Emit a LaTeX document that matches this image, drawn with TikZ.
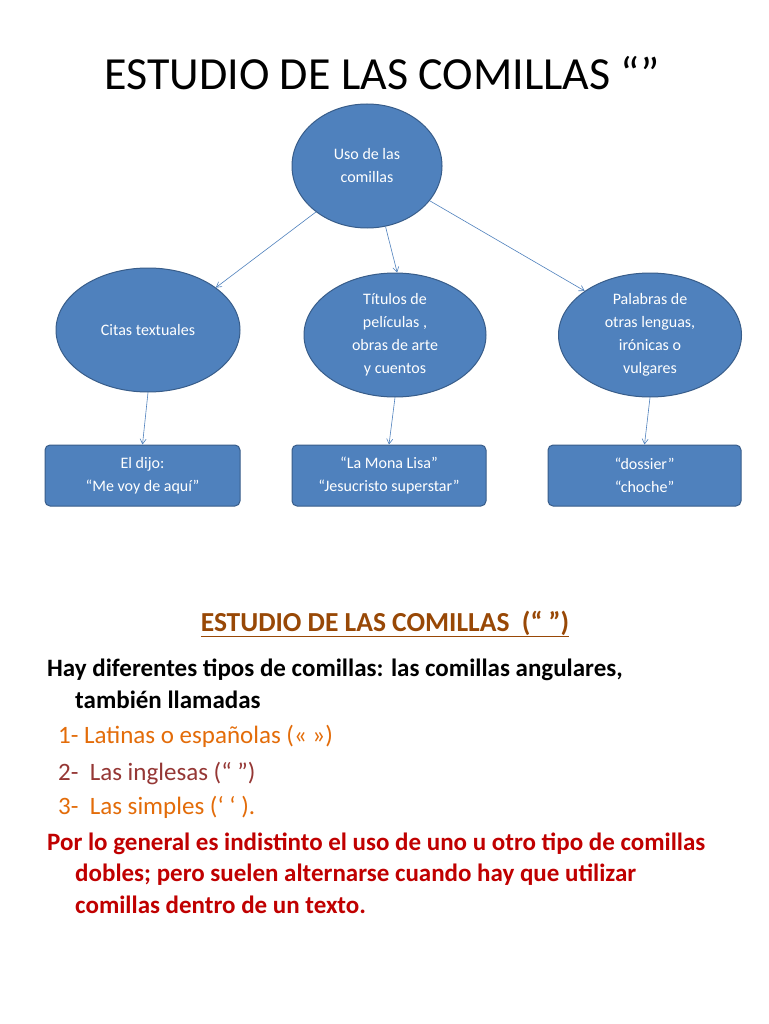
\documentclass[tikz,border=0pt]{standalone}
\usepackage{fontspec}
\setmainfont{Carlito}
\usetikzlibrary{shapes.geometric,arrows.meta}
\definecolor{nodefill}{HTML}{4F81BD}
\definecolor{nodeline}{HTML}{385D8A}
\definecolor{brownc}{HTML}{984806}
\definecolor{orangec}{HTML}{E36C09}
\definecolor{maroonc}{HTML}{953735}
\definecolor{redc}{HTML}{C00000}
\tikzset{
  oval/.style={ellipse,draw=nodeline,fill=nodefill,line width=1pt,text=white,font=\fontsize{16}{23}\selectfont,align=center,inner sep=0pt},
  leaf/.style={rectangle,rounded corners=5pt,draw=nodeline,fill=nodefill,line width=1pt,text=white,font=\fontsize{16}{23}\selectfont,align=center,minimum height=61pt},
  conn/.style={draw=nodefill,line width=0.6pt,-{Straight Barb[length=5pt,width=6pt]}},
  body/.style={anchor=base west,font=\fontsize{25}{30}\selectfont,inner sep=0pt}
}
\begin{document}
\begin{tikzpicture}[x=1pt,y=-1pt]
\useasboundingbox[fill=white] (0,0) rectangle (768,1024);
\node[font=\fontsize{46}{52}\selectfont,anchor=base] (title) at (382,90) {ESTUDIO DE LAS COMILLAS “”};
\node[oval,minimum width=150pt,minimum height=124pt] (top) at (367,166) {Uso de las\\comillas};
\node[oval,minimum width=184pt,minimum height=124pt] (c1) at (148,330) {Citas textuales};
\node[oval,minimum width=182pt,minimum height=124pt] (c2) at (395,335) {Títulos de\\películas ,\\obras de arte\\y cuentos};
\node[oval,minimum width=183pt,minimum height=124pt] (c3) at (650,335) {Palabras de\\otras lenguas,\\irónicas o\\vulgares};
\node[leaf,minimum width=195pt] (b1) at (142.5,475.5) {El dijo:\\“Me voy de aquí”};
\node[leaf,minimum width=194pt] (b2) at (389,475.5) {“La Mona Lisa”\\“Jesucristo superstar”};
\node[leaf,minimum width=193pt] (b3) at (644.5,475.5) {“dossier”\\“choche”};
\draw[conn] (top.222) -- (c1.32);
\draw[conn] (top.287) -- (c2.88);
\draw[conn] (top.331) -- (c3.146);
\draw[conn] (c1.south) -- (b1.north);
\draw[conn] (c2.south) -- (b2.north);
\draw[conn] (c3.south) -- (b3.north);
\node[body,anchor=base,font=\fontsize{27.5}{30}\selectfont\bfseries,text=brownc] (h2) at (385,631) {\underline{ESTUDIO DE LAS COMILLAS\ \ (“ ”)}};
\node[body,font=\fontsize{25}{30}\selectfont\bfseries] (p1) at (47,676) {Hay diferentes tipos de comillas: las comillas angulares,};
\node[body,font=\fontsize{25}{30}\selectfont\bfseries] (p2) at (75,708) {también llamadas};
\node[body,text=orangec] (i1) at (58,743) {1- Latinas o españolas (« »)};
\node[body,text=maroonc] (i2) at (58,780) {2-\ \ Las inglesas (“ ”)};
\node[body,text=orangec] (i3) at (58,814) {3-\ \ Las simples (‘ ‘ ).};
\node[body,font=\fontsize{25}{30}\selectfont\bfseries,text=redc] (r1) at (47,850) {Por lo general es indistinto el uso de uno u otro tipo de comillas};
\node[body,font=\fontsize{25}{30}\selectfont\bfseries,text=redc] (r2) at (75,881) {dobles; pero suelen alternarse cuando hay que utilizar};
\node[body,font=\fontsize{25}{30}\selectfont\bfseries,text=redc] (r3) at (75,913) {comillas dentro de un texto.};
\end{tikzpicture}
\end{document}
